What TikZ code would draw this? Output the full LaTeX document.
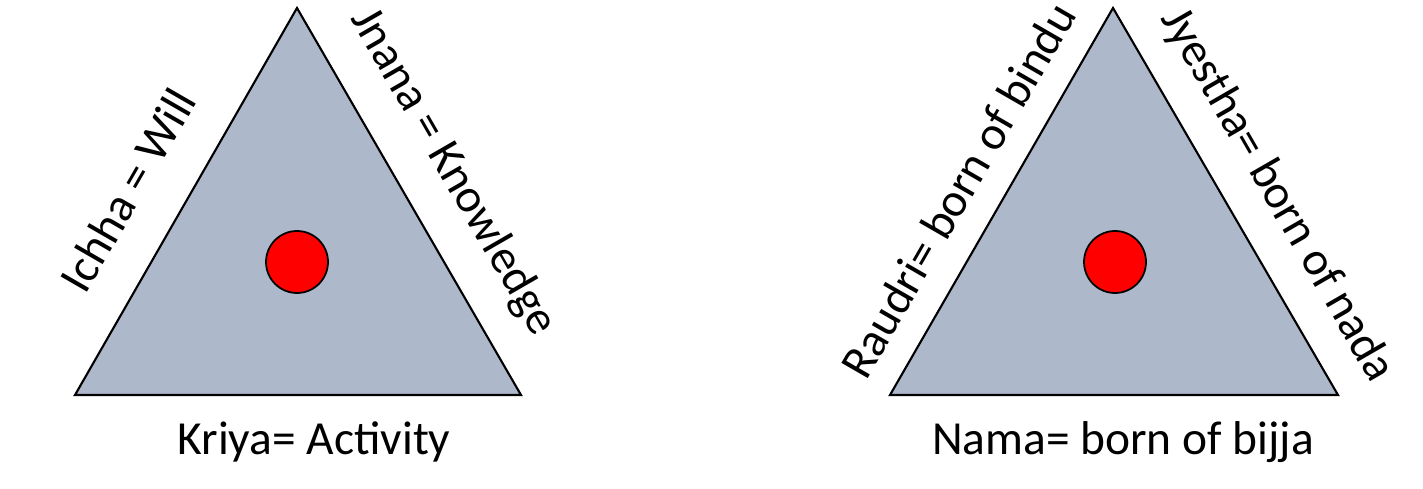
\documentclass[tikz,border=0pt]{standalone}
\usepackage{fontspec}
\setmainfont{Carlito}
\definecolor{tri}{HTML}{ADB9CA}
\begin{document}
\begin{tikzpicture}[x=0.02cm,y=-0.02cm,
  tri/.style={fill=tri,draw=black,line width=1.2pt},
  dot/.style={circle,fill=red,draw=black,line width=1pt,minimum size=1.24cm,inner sep=0pt},
  lab/.style={font=\fontsize{27}{31}\selectfont,inner sep=0pt}]
\useasboundingbox (0,0) rectangle (1423,489);
\coordinate (a1) at (297,8); \coordinate (b1) at (75,395); \coordinate (c1) at (521,395);
\coordinate (a2) at (1113,8); \coordinate (b2) at (890,395); \coordinate (c2) at (1338,395);
\draw[tri] (a1) -- (b1) -- (c1) -- cycle;
\draw[tri] (a2) -- (b2) -- (c2) -- cycle;
\node[dot] (d1) at (297,262) {};
\node[dot] (d2) at (1115,262) {};
\node[lab,rotate=60] (l1) at (128,190) {Ichha = Will};
\node[lab,rotate=-60] (r1) at (453,172) {Jnana = Knowledge};
\node[lab] (k1) at (314,442) {Kriya= Activity};
\node[lab,rotate=60] (l2) at (958,190) {Raudri= born of bindu};
\node[lab,rotate=-60] (r2) at (1277,195) {Jyestha= born of nada};
\node[lab] (k2) at (1123,442) {Nama= born of bijja};
\end{tikzpicture}
\end{document}
